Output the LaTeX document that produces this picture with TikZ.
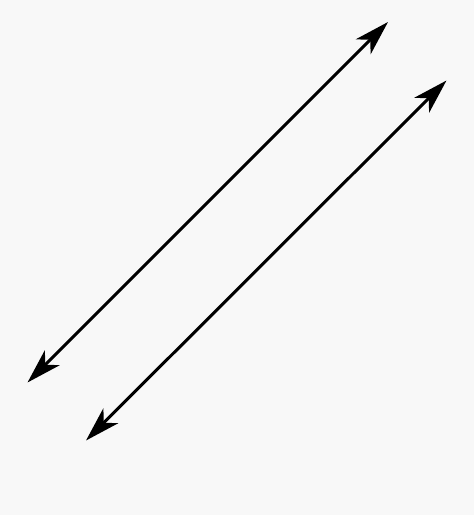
\documentclass[tikz,border=0pt]{standalone}
\usetikzlibrary{arrows.meta}
\definecolor{bg}{RGB}{248,248,248}
\begin{document}
\begin{tikzpicture}[x=1pt,y=-1pt,
  headtip/.tip={Stealth[length=35pt,width=21pt,inset=10pt]},
  dbl/.style={line width=3pt,headtip-headtip}]
\fill[bg] (0,0) rectangle (474,515);
\useasboundingbox (0,0) rectangle (474,515);
\coordinate (a1) at (27.5,382.5);
\coordinate (b1) at (388,22);
\coordinate (a2) at (86,440.5);
\coordinate (b2) at (446.5,80.5);
\draw[dbl] (a1) -- (b1);
\draw[dbl] (a2) -- (b2);
\end{tikzpicture}
\end{document}
